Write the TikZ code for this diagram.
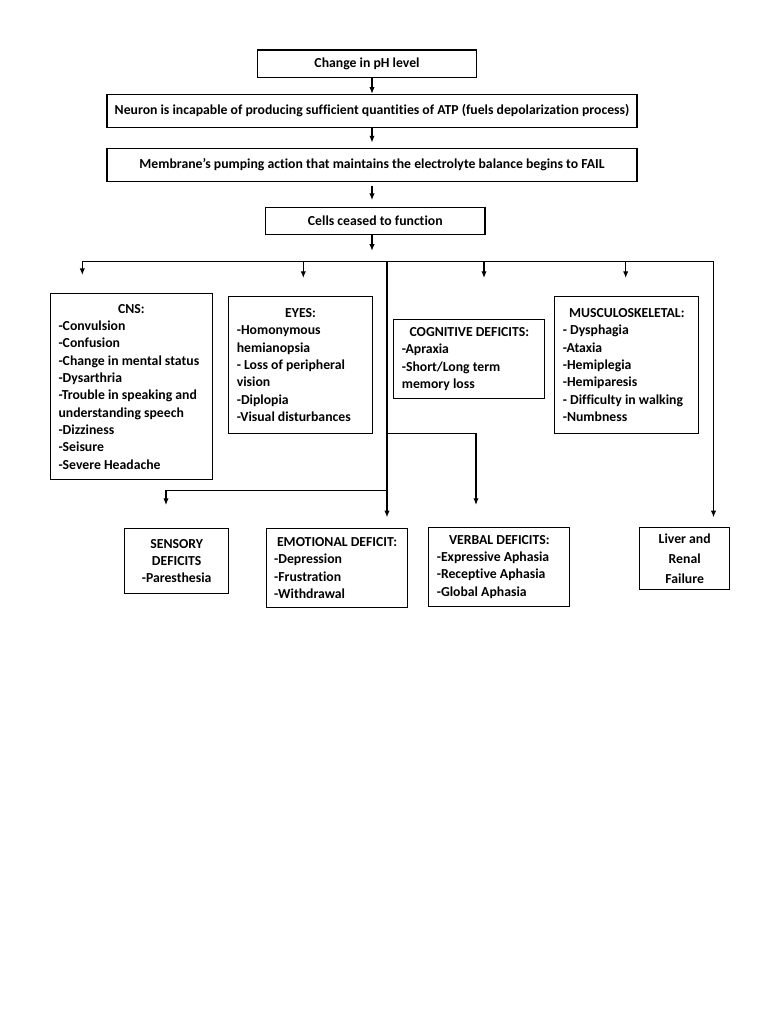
\documentclass[tikz,border=0pt]{standalone}
\usepackage{fontspec}
\setmainfont{Carlito}[Ligatures=NoCommon]
\usetikzlibrary{arrows.meta}

\begin{document}
\begin{tikzpicture}[x=0.75pt, y=-0.75pt,
  box/.style={draw, line width=0.8pt, inner sep=0pt,
    font=\bfseries\fontsize{10.3}{13}\selectfont},
  list/.style={box, anchor=north west, align=flush left, inner xsep=6pt},
  arr/.style={line width=0.9pt, -{Latex[length=5pt,width=4pt]}},
  wire/.style={line width=0.9pt}]

\useasboundingbox (0,0) rectangle (768,1024);

\node [box, minimum width=164.5pt, minimum height=20.8pt] (ph) at (367,63.9) {Change in pH level};
\node [box, minimum width=397.5pt, minimum height=24.75pt] (atp) at (372,110.8)
  {Neuron is incapable of producing sufficient quantities of ATP (fuels depolarization process)};
\node [box, minimum width=397.5pt, minimum height=24.5pt] (memb) at (372,164.7)
  {Membrane’s pumping action that maintains the electrolyte balance begins to FAIL};
\node [box, minimum width=164.5pt, minimum height=20.25pt] (cells) at (375.3,220.8) {Cells ceased to function};

\node [list, text width=109.3pt, minimum height=139.5pt] (cns) at (50,293.3)
  {\makebox[\hsize]{CNS:}\\ -Convulsion\\ -Confusion\\ -Change in mental status\\ -Dysarthria\\
   -Trouble in speaking and\\ understanding speech\\ -Dizziness\\ -Seisure\\ -Severe Headache};
\node [list, text width=95.5pt, minimum height=103pt] (eyes) at (228.3,296)
  {\makebox[\hsize]{EYES:}\\ -Homonymous\\ hemianopsia\\ - Loss of peripheral\\ vision\\ -Diplopia\\ -Visual disturbances};
\node [list, text width=101.25pt, minimum height=59.5pt] (cog) at (393.3,319)
  {\makebox[\hsize]{COGNITIVE DEFICITS:}\\ -Apraxia\\ -Short/Long term\\ memory loss};
\node [list, text width=96pt, minimum height=103pt] (musc) at (554.3,296)
  {\makebox[\hsize]{MUSCULOSKELETAL:}\\ - Dysphagia\\ -Ataxia\\ -Hemiplegia\\ -Hemiparesis\\ - Difficulty in walking\\ -Numbness};

\node [list, align=flush center, text width=66.2pt, minimum height=49.2pt] (sens) at (124,527.7)
  {SENSORY\\ DEFICITS\\ -Paresthesia};
\node [list, text width=94.2pt, minimum height=59.7pt] (emot) at (265.7,527.7)
  {\makebox[\hsize]{EMOTIONAL DEFICIT:}\\ -Depression\\ -Frustration\\ -Withdrawal};
\node [list, text width=93.75pt, minimum height=59.25pt] (verb) at (428.3,526.7)
  {\makebox[\hsize]{VERBAL DEFICITS:}\\ -Expressive Aphasia\\ -Receptive Aphasia\\ -Global Aphasia};
\node [list, align=flush center, text width=55.7pt, minimum height=47pt,
  font=\bfseries\fontsize{10.3}{15}\selectfont] (liver) at (639,526.7)
  {Liver and\\ Renal\\ Failure};

\coordinate (S) at (372,261.5);
\coordinate (BL) at (82.3,261.5);
\coordinate (BR) at (713.5,261.5);
\coordinate (T1) at (303.3,261.5);
\coordinate (T2) at (484,261.5);
\coordinate (T3) at (625.7,261.5);
\coordinate (M) at (387,261.5);
\coordinate (M1) at (387,433.3);
\coordinate (M2) at (387,490.7);
\coordinate (V) at (476,433.3);
\coordinate (L) at (166,490.7);

% main chain
\draw [arr] (ph.south -| atp.north) -- (atp.north);
\draw [arr, shorten >=4pt] (atp.south) -- (memb.north);
\draw [arr, shorten <=3pt, shorten >=5pt] (memb.south) -- (cells.north -| memb.south);
\draw [arr, shorten >=8pt] (cells.south -| S) -- (S);

% bus
\draw [wire] (BL) -- (BR);
\draw [arr, shorten >=13.7pt] (BL) -- (BL |- cns.north);
\draw [arr, shorten >=13.5pt] (T1) -- (T1 |- eyes.north);
\draw [arr, shorten >=30.75pt] (T2) -- (T2 |- cog.north);
\draw [arr, shorten >=13.5pt] (T3) -- (T3 |- musc.north);
\draw [arr, shorten >=7pt] (BR) -- (BR |- liver.north);

% trunk
\draw [arr, shorten >=7.8pt] (M) -- (M |- emot.north);
\draw [arr, shorten >=16.3pt] (M1) -- (V) -- (V |- verb.north);
\draw [arr, shorten >=17pt] (M2) -- (L) -- (L |- sens.north);

\end{tikzpicture}
\end{document}
